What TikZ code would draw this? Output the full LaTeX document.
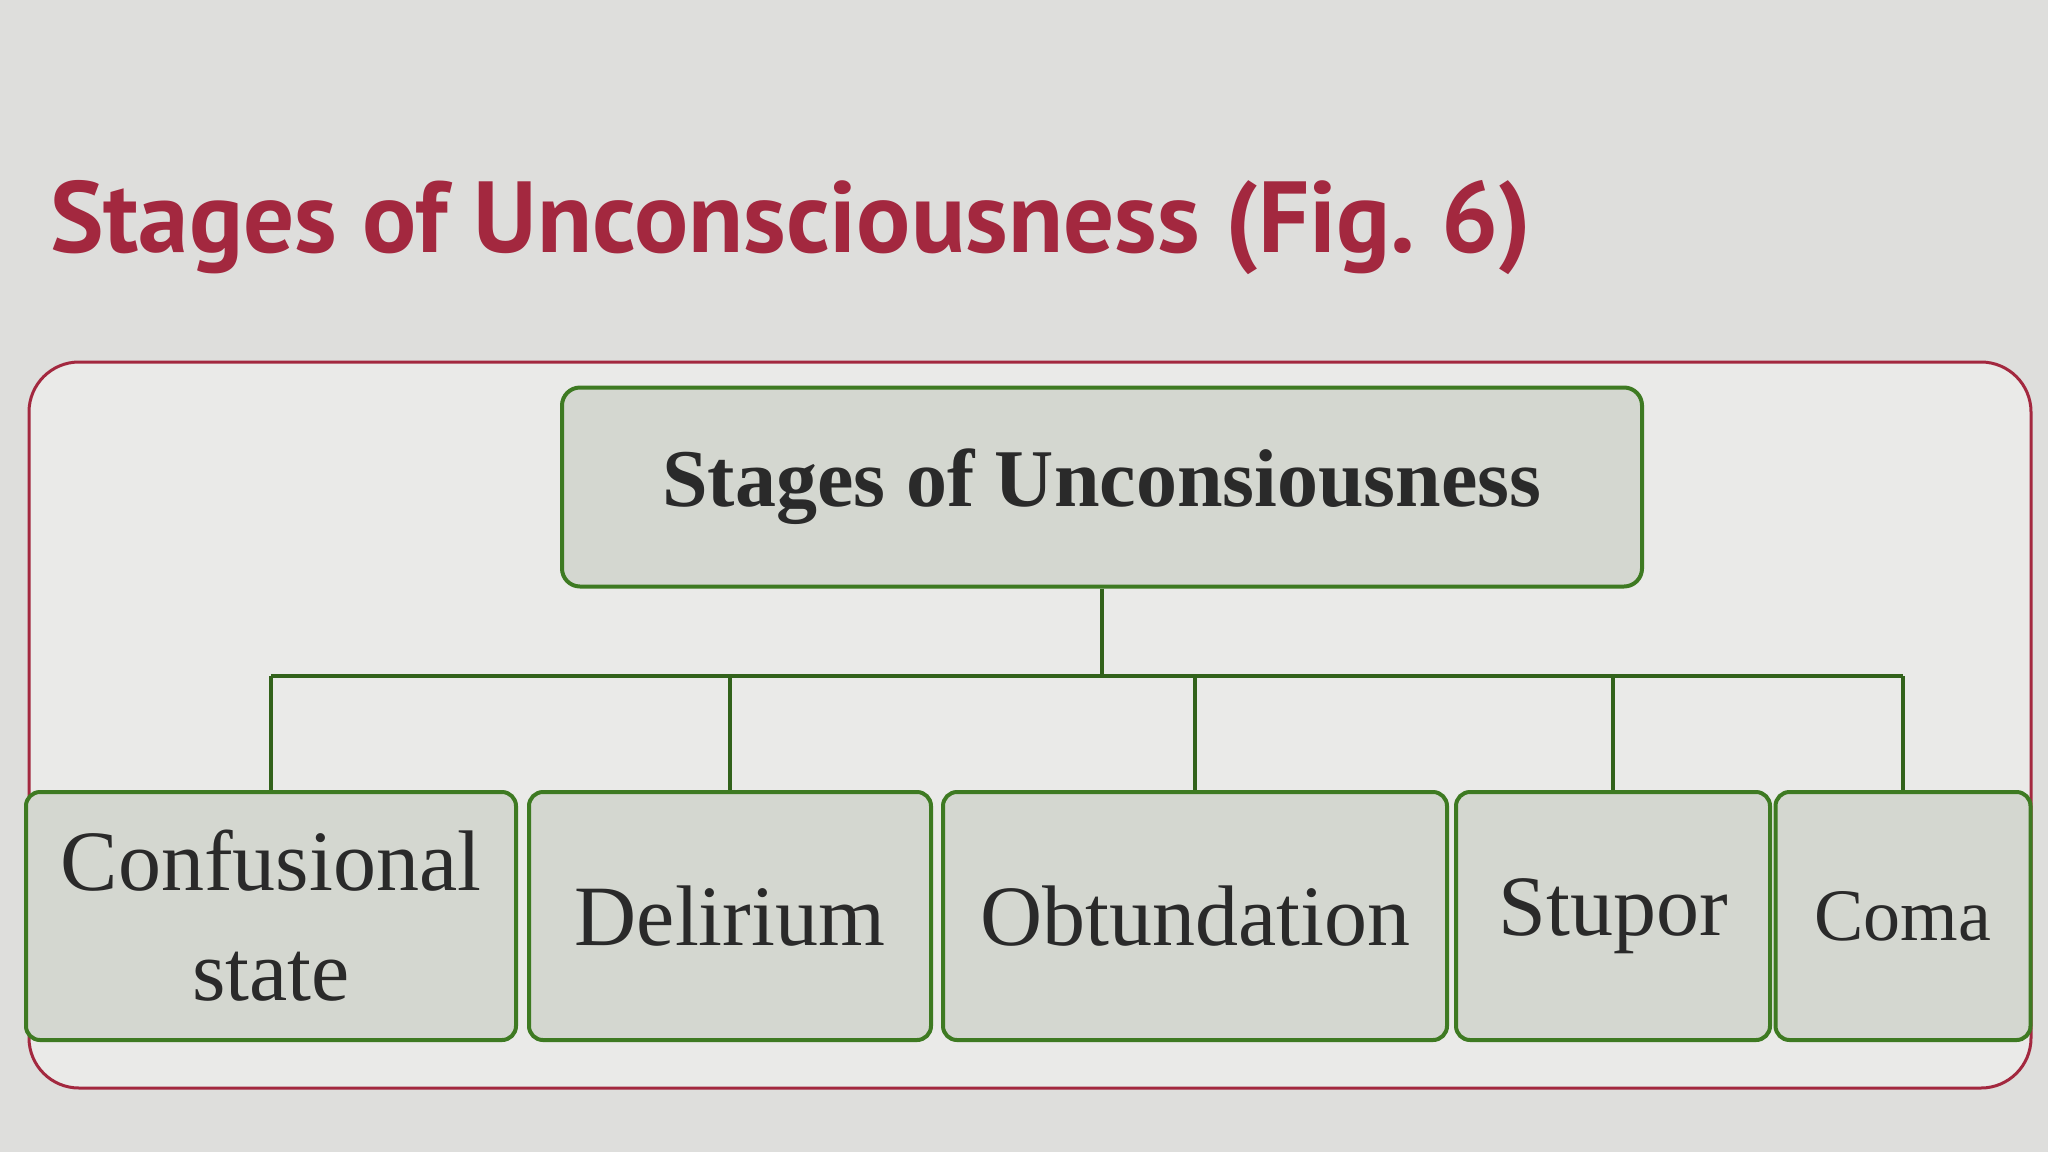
\documentclass[tikz,border=0pt]{standalone}
\usepackage{fontspec}
\setmainfont{Liberation Serif}
\newfontfamily\titlefont{PT Sans}
\definecolor{paper}{HTML}{DEDEDC}
\definecolor{framefill}{HTML}{EAEAE8}
\definecolor{crimson}{HTML}{A3283F}
\definecolor{boxgreen}{HTML}{3E7A22}
\definecolor{boxfill}{HTML}{D4D7D0}
\definecolor{ink}{HTML}{2A2A2A}
\tikzset{
  stagebox/.style={draw=boxgreen, line width=4pt, fill=boxfill, rounded corners=14pt,
    text=ink, align=center, inner sep=0pt, minimum height=248pt,
    font=\fontsize{86}{110}\selectfont},
  headbox/.style={draw=boxgreen, line width=4pt, fill=boxfill, rounded corners=18pt,
    text=ink, inner sep=0pt, minimum width=1080pt, minimum height=199pt,
    font=\bfseries\fontsize{82}{96}\selectfont},
  link/.style={draw=boxgreen!80!black, line width=3.5pt},
  outerframe/.style={draw=crimson, line width=3pt, fill=framefill, rounded corners=50pt}
}
\begin{document}
\begin{tikzpicture}[x=1pt,y=-1pt]
\fill[paper] (0,0) rectangle (2048,1152);
\useasboundingbox (0,0) rectangle (2048,1152);
\node[anchor=base west, text=crimson, inner sep=0pt, font=\titlefont\bfseries\fontsize{101}{120}\selectfont] (title) at (50,252) {Stages of Unconsciousness (Fig.~6)};
\path[outerframe] (29,362) rectangle (2031,1088);
\node[headbox] (head) at (1102,487) {Stages of Unconsiousness};
\node[stagebox, minimum width=490pt] (conf) at (271,916) {Confusional\\state};
\node[stagebox, minimum width=402pt] (deli) at (730,916) {Delirium};
\node[stagebox, minimum width=504pt] (obtu) at (1195,916) {Obtundation};
\node[stagebox, minimum width=314pt] (stup) at (1613,916) {Stupor};
\node[stagebox, minimum width=255pt, font=\fontsize{74}{90}\selectfont] (coma) at (1903,916) {Coma};
\coordinate (bus) at (1102,676);
\draw[link] (head.south) -- (bus);
\draw[link] (conf.north |- bus) -- (coma.north |- bus);
\foreach \n in {conf,deli,obtu,stup,coma}{
  \draw[link] (\n.north |- bus) -- (\n.north);
}
\end{tikzpicture}
\end{document}
